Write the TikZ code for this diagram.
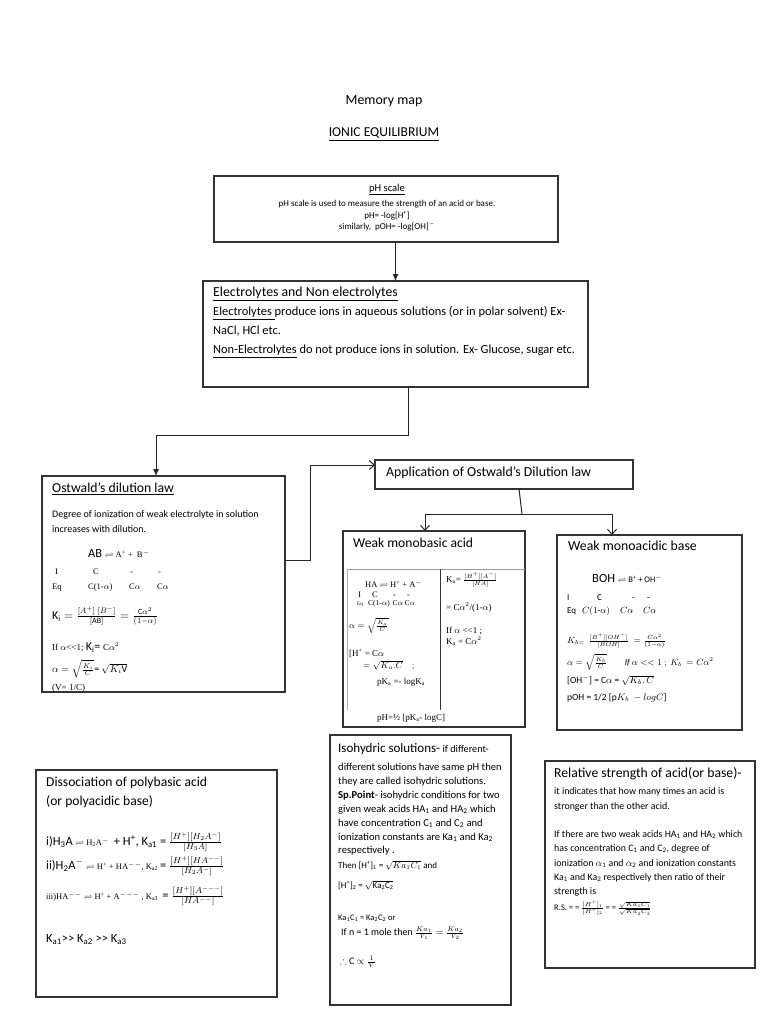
\RequirePackage{fix-cm}
\documentclass[tikz,border=0pt]{standalone}
\usepackage{amsmath,amssymb}
\usepackage{fontspec}
\setmainfont{Carlito}
\newfontfamily\ser{Liberation Serif}
\usetikzlibrary{arrows.meta,calc}
\newcommand\fs[1]{\fontsize{#1}{#1}\selectfont}
\begin{document}
\begin{tikzpicture}[x=1pt,y=-1pt,
  box/.style={draw=black!80,line width=1.1pt,anchor=north west,inner sep=0pt,outer sep=0pt},
  tl/.style={anchor=mid west,inner sep=0pt},
  tc/.style={anchor=mid,inner sep=0pt},
  fillarr/.style={draw=black!85,line width=1pt,-{Latex[length=7pt,width=6pt]}},
  openarr/.style={draw=black!85,line width=1pt,-{Straight Barb[length=5pt,width=9pt]}},
  conn/.style={draw=black!85,line width=1pt}]
\useasboundingbox (0,0) rectangle (768,1024);
\fill[white] (0,0) rectangle (768,1024);

% titles
\node[tc,font=\fs{13.9}] (t1) at (384,102) {Memory map};
\node[tc,font=\fs{13.6}] (t2) at (384,134) {\underline{IONIC EQUILIBRIUM}};

% boxes
\node[box,minimum width=344pt,minimum height=66pt] (ph) at (214,176) {};
\node[box,minimum width=385pt,minimum height=106pt] (el) at (203,281) {};
\node[box,minimum width=243pt,minimum height=216pt] (ost) at (42,476) {};
\node[box,minimum width=258pt,minimum height=29pt] (app) at (375,460) {};
\node[box,minimum width=182pt,minimum height=196pt] (wma) at (343,531) {};
\node[box,minimum width=185pt,minimum height=195pt] (wmb) at (557,535) {};
\node[box,minimum width=181pt,minimum height=270pt] (iso) at (330,735) {};
\node[box,minimum width=241pt,minimum height=227pt] (dis) at (36,770) {};
\node[box,minimum width=210pt,minimum height=207pt] (rel) at (545,761) {};

% connectors
\draw[fillarr] (el.north |- ph.south) -- (el.north);
\draw[fillarr] ($(el.south)+(12.5,0)$) -- ++(0,48) -| ($(ost.north)+(-7.5,0)$);
\draw[openarr] ($(ost.north east)+(0,84)$) -- ++(25,0) |- ($(app.north west)+(0,5)$);
\coordinate (j) at (522,514);
\draw[conn] ($(app.south west)+(144,0)$) -- (j);
\draw[openarr] (j) -| ($(wma.north west)+(82,0)$);
\draw[openarr] (j) -| ($(wmb.north west)+(55,0)$);

% pH scale
\node[tc,font=\fs{10.6}] (ph1) at (387,189) {\underline{pH scale}};
\node[tc,font=\fs{9}] (ph2) at (387,204) {pH scale is used to measure the strength of an acid or base.};
\node[tc,font=\fs{9}] (ph3) at (387,216) {pH= -log[H\textsuperscript{+}]};
\node[tc,font=\fs{9}] (ph4) at (387,227) {similarly,\ \ pOH= -log[OH]\textsuperscript{$-$}};

% electrolytes
\node[tl,font=\fs{13.8}] (el1) at (213,294) {\underline{Electrolytes and Non electrolytes}};
\node[tl,font=\fs{12.4}] (el2) at (213,313) {\underline{Electrolytes }produce ions in aqueous solutions (or in polar solvent) Ex-};
\node[tl,font=\fs{12.4}] (el3) at (213,332) {NaCl, HCl etc.};
\node[tl,font=\fs{12.4}] (el4) at (213,351) {\underline{Non-Electrolytes} do not produce ions in solution. Ex- Glucose, sugar etc.};

% Ostwald
\node[tl,font=\fs{13.7}] (os1) at (52,490) {\underline{Ostwald’s dilution law}};
\node[tl,font=\fs{10}] (os2) at (52,515) {Degree of ionization of weak electrolyte in solution};
\node[tl,font=\fs{10}] (os3) at (52,530) {increases with dilution.};
\node[tl] (os4) at (88,555) {{\fs{12.5}AB }{\ser\fs{8.5}$\rightleftharpoons$ A\textsuperscript{+} +\ \ B\textsuperscript{$-$}}};
\node[tl,font=\ser\fs{8.5}] (os5) at (55,572) {\makebox[38pt][l]{I}\makebox[37pt][l]{C}\makebox[28pt][l]{-}-};
\node[tl,font=\ser\fs{8.5}] (os6) at (52,587) {\makebox[36pt][l]{Eq}\makebox[41pt][l]{C(1-$\alpha$)}\makebox[28pt][l]{C$\alpha$}C$\alpha$};
\node[tl,font=\fs{12}] (os7) at (52,617) {$\mathrm{K_i} =\frac{[A^+]\ [B^-]}{[\mathrm{AB}]}=\frac{\mathrm{C}\alpha^2}{(1-\alpha)}$};
\node[tl] (os8) at (52,648) {{\ser\fs{9}If $\alpha$<{}<1; }{\fs{12}K\textsubscript{i}= }{\ser\fs{9}C$\alpha^2$}};
\node[tl,font=\fs{10}] (os9) at (52,670) {$\alpha = \sqrt{\frac{K_i}{C}}$= $\sqrt{K_i\mathrm{V}}$};
\node[tl,font=\ser\fs{9}] (os10) at (52,688) {(V= 1/C)};

% application
\node[tl,font=\fs{13.8}] (ap1) at (386,474) {Application of Ostwald’s Dilution law};

% weak monobasic acid
\node[tl,font=\fs{13.6}] (wa1) at (353,545) {Weak monobasic acid};
\draw[black!40,line width=0.8pt] (347,569) -- (525,569);
\draw[black!30,line width=0.8pt] (347,569) -- (347,710);
\draw[black!80,line width=1pt] (440,569) -- (440,710);
\node[tl,font=\ser\fs{8.5}] (wa2) at (365,585) {HA $\rightleftharpoons$ H\textsuperscript{+} + A\textsuperscript{$-$}};
\node[tl,font=\ser\fs{8.5}] (wa3) at (358,595) {\makebox[14pt][l]{I}\makebox[21pt][l]{C}\makebox[14pt][l]{-}-};
\node[tl,font=\ser\fs{7.4}] (wa4) at (357,603) {\makebox[11pt][l]{\fs{5}Eq}\makebox[24.5pt][l]{C(1-$\alpha$)}\makebox[12pt][l]{C$\alpha$}C$\alpha$};
\node[tl,font=\fs{8.6}] (wa5) at (349,626) {$\alpha = \sqrt{\frac{K_a}{C}}$};
\node[tl,font=\ser\fs{9}] (wa6) at (349,654) {[H\textsuperscript{+} = C$\alpha$};
\node[tl,font=\fs{9}] (wa7) at (363,666) {$= \sqrt{K_a.C}\quad ;$};
\node[tl,font=\ser\fs{9}] (wa8) at (377,682) {pK\textsubscript{a} =- logK\textsubscript{a}};
\node[tl,font=\ser\fs{9}] (wa9) at (377,718) {pH=½ [pK\textsubscript{a}- logC]};
\node[tl,font=\ser\fs{9}] (wa10) at (446,580) {K\textsubscript{a}= $\frac{[H^+][A^-]}{[HA]}$};
\node[tl,font=\ser\fs{9}] (wa11) at (446,608) {= C$\alpha^2$/(1-$\alpha$)};
\node[tl,font=\ser\fs{9}] (wa12) at (446,631) {If $\alpha$ <{}<1 ;};
\node[tl,font=\ser\fs{9}] (wa13) at (446,642) {K\textsubscript{a} = C$\alpha^2$};

% weak monoacidic base
\node[tl,font=\fs{13.8}] (wb1) at (568,548) {Weak monoacidic base};
\node[tl] (wb2) at (592,580) {{\fs{12.5}BOH }{\fs{8.5}$\rightleftharpoons$ B\textsuperscript{+} + OH\textsuperscript{$-$}}};
\node[tl,font=\fs{9}] (wb3) at (567,598) {\makebox[30pt][l]{I}\makebox[35pt][l]{C}\makebox[15pt][l]{-}-};
\node[tl,font=\fs{9}] (wb4) at (567,611) {\makebox[15pt][l]{Eq}\makebox[38pt][l]{$C(1\text{-}\alpha)$}\makebox[23pt][l]{$C\alpha$}$C\alpha$};
\node[tl,font=\fs{9}] (wb5) at (567,641) {$K_{b=}\ \ \frac{[B^+][OH^-]}{[BOH]}\ = \frac{C\alpha^2}{(1-\alpha)}$};
\node[tl,font=\fs{9}] (wb6) at (567,663) {$\alpha = \sqrt{\frac{K_b}{C}}\qquad \mathit{If}\ \alpha <<1\ ;\ K_b\ = C\alpha^2$};
\node[tl,font=\fs{9.5}] (wb7) at (567,681) {[OH\textsuperscript{$-$}] = C$\alpha$ = $\sqrt{K_b.\,C}$};
\node[tl,font=\fs{9.5}] (wb8) at (567,698) {pOH = 1/2 [p$K_b\ - logC$]};

% isohydric
\node[tl] (is1) at (338,750) {{\fs{13}Isohydric solutions-}{\fs{10.2}\ if different-}};
\node[tl,font=\fs{10.6}] (is2) at (338,768) {different solutions have same pH then};
\node[tl,font=\fs{10.6}] (is3) at (338,782) {they are called isohydric solutions.};
\node[tl,font=\fs{10.6}] (is4) at (338,796) {\textbf{Sp.Point}- isohydric conditions for two};
\node[tl,font=\fs{10.6}] (is5) at (338,810) {given weak acids HA\textsubscript{1} and HA\textsubscript{2} which};
\node[tl,font=\fs{10.6}] (is6) at (338,824) {have concentration C\textsubscript{1} and C\textsubscript{2} and};
\node[tl,font=\fs{10.6}] (is7) at (338,838) {ionization constants are Ka\textsubscript{1} and Ka\textsubscript{2}};
\node[tl,font=\fs{10.6}] (is8) at (338,851) {respectively .};
\node[tl,font=\fs{9}] (is9) at (338,866) {Then [H\textsuperscript{+}]\textsubscript{1} = $\sqrt{Ka_1C_1}$ and};
\node[tl,font=\fs{9}] (is10) at (338,886) {[H\textsuperscript{+}]\textsubscript{2} = $\sqrt{\mathrm{Ka_2C_2}}$};
\node[tl,font=\fs{8.5}] (is11) at (338,918) {Ka\textsubscript{1}C\textsubscript{1} = Ka\textsubscript{2}C\textsubscript{2} or};
\node[tl,font=\fs{10}] (is12) at (341,933) {If n = 1 mole then $\frac{Ka_1}{V_1} = \frac{Ka_2}{V_2}$};
\node[tl,font=\fs{10}] (is13) at (340,962) {$\therefore$ C $\propto \frac{1}{V}$};

% dissociation
\node[tl,font=\fs{13.6}] (ds1) at (46,784) {Dissociation of polybasic acid};
\node[tl,font=\fs{13.6}] (ds2) at (46,803) {(or polyacidic base)};
\node[tl] (ds3) at (46,843) {{\fs{12.5}i)H\textsubscript{3}A }{\ser\fs{8.5}$\rightleftharpoons$ H\textsubscript{2}A\textsuperscript{$-$}\ }{\fs{12.5} + H\textsuperscript{+}, K\textsubscript{a1} = $\frac{[H^+][H_2A^-]}{[H_3A]}$}};
\node[tl] (ds4) at (46,867) {{\fs{12.5}ii)H\textsubscript{2}A\textsuperscript{$-$} }{\ser\fs{8.5}$\rightleftharpoons$ H\textsuperscript{+} + HA$^{--}$, K\textsubscript{a2} }{\fs{12.5}= $\frac{[H^+][HA^{--}]}{[H_2A^-]}$}};
\node[tl] (ds5) at (46,897) {{\ser\fs{8.5}iii)HA$^{--}$ $\rightleftharpoons$ H\textsuperscript{+} + A$^{---}$ , K\textsubscript{a3}\ \ }{\fs{12.5}= $\frac{[H^+][A^{---}]}{[HA^{--}]}$}};
\node[tl,font=\fs{12.5}] (ds6) at (46,940) {K\textsubscript{a1}>{}> K\textsubscript{a2} >{}> K\textsubscript{a3}};

% relative strength
\node[tl,font=\fs{13.7}] (rs1) at (554,775) {Relative strength of acid(or base)-};
\node[tl,font=\fs{9.9}] (rs2) at (554,792) {it indicates that how many times an acid is};
\node[tl,font=\fs{9.9}] (rs3) at (554,807) {stronger than the other acid.};
\node[tl,font=\fs{9.9}] (rs4) at (554,835) {If there are two weak acids HA\textsubscript{1} and HA\textsubscript{2} which};
\node[tl,font=\fs{9.9}] (rs5) at (554,849) {has concentration C\textsubscript{1} and C\textsubscript{2}, degree of};
\node[tl,font=\fs{9.9}] (rs6) at (554,864) {ionization $\alpha$\textsubscript{1} and $\alpha$\textsubscript{2} and ionization constants};
\node[tl,font=\fs{9.9}] (rs7) at (554,878) {Ka\textsubscript{1} and Ka\textsubscript{2} respectively then ratio of their};
\node[tl,font=\fs{9.9}] (rs8) at (554,892) {strength is};
\node[tl,font=\fs{8.5}] (rs9) at (554,908) {R.S. = = $\frac{[H^+]_1}{[H^+]_2}$ = = $\frac{\sqrt{Ka_1C_1}}{\sqrt{Ka_2C_2}}$};
\end{tikzpicture}
\end{document}
